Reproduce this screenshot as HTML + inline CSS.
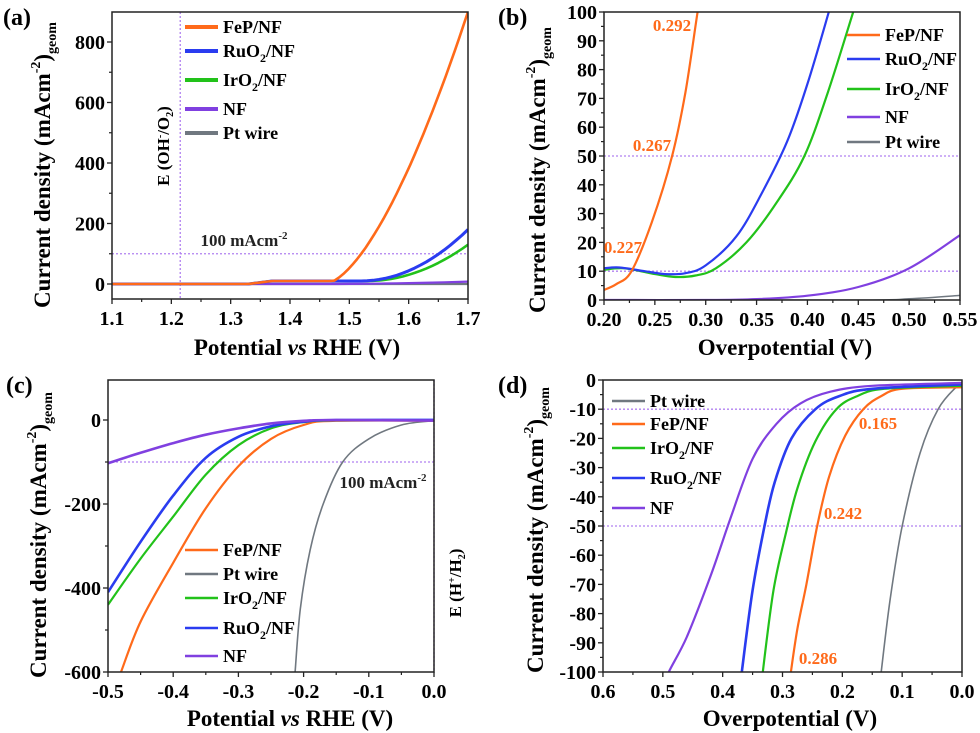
<!DOCTYPE html>
<html><head><meta charset="utf-8"><style>
html,body{margin:0;padding:0;background:#fff;}
svg{display:block;font-family:"Liberation Serif",serif;font-weight:bold;}
</style></head><body>
<svg id="s" width="980" height="733" viewBox="0 0 980 733" xmlns="http://www.w3.org/2000/svg"></svg>
<script>
var S=document.getElementById('s'),out='';
var C={fe:'#ff6a1a',ru:'#2a3cf0',ir:'#22c21a',nf:'#8040e0',pt:'#707880',dot:'#b080f0'};
function cr(pts){var d='M'+pts[0][0].toFixed(1)+','+pts[0][1].toFixed(1);
for(var i=0;i<pts.length-1;i++){var p0=pts[i-1]||pts[i],p1=pts[i],p2=pts[i+1],p3=pts[i+2]||p2;
var c1=[p1[0]+(p2[0]-p0[0])/6,p1[1]+(p2[1]-p0[1])/6],c2=[p2[0]-(p3[0]-p1[0])/6,p2[1]-(p3[1]-p1[1])/6];
d+='C'+c1[0].toFixed(1)+','+c1[1].toFixed(1)+' '+c2[0].toFixed(1)+','+c2[1].toFixed(1)+' '+p2[0].toFixed(1)+','+p2[1].toFixed(1);}return d;}
function panel(o){
var fx=function(v){return o.px0+(v-o.vx0)/(o.vx1-o.vx0)*(o.px1-o.px0);};
var fy=function(v){return o.py0+(v-o.vy0)/(o.vy1-o.vy0)*(o.py1-o.py0);};
var L=Math.min(o.px0,o.px1),R=Math.max(o.px0,o.px1),T=o.top,B=o.bot;
out+='<defs><clipPath id="c'+o.id+'"><rect x="'+L+'" y="'+T+'" width="'+(R-L)+'" height="'+(B-T)+'"/></clipPath></defs>';
(o.hl||[]).forEach(function(v){out+='<line x1="'+L+'" x2="'+R+'" y1="'+fy(v)+'" y2="'+fy(v)+'" stroke="'+C.dot+'" stroke-width="1.3" stroke-dasharray="2,2"/>';});
(o.vl||[]).forEach(function(v){out+='<line y1="'+T+'" y2="'+B+'" x1="'+fx(v)+'" x2="'+fx(v)+'" stroke="'+C.dot+'" stroke-width="1.3" stroke-dasharray="2,2"/>';});
o.series.forEach(function(s){var p=s.f?s.f():s.p;var pts=p.map(function(q){return [fx(q[0]),fy(q[1])];});
out+='<path d="'+(s.lin?('M'+pts.map(function(q){return q[0].toFixed(1)+','+q[1].toFixed(1)}).join('L')):cr(pts))+'" fill="none" stroke="'+C[s.c]+'" stroke-width="'+(s.w||2.2)+'" stroke-linejoin="round" clip-path="url(#c'+o.id+')"/>';});
out+='<rect x="'+L+'" y="'+T+'" width="'+(R-L)+'" height="'+(B-T)+'" fill="none" stroke="#222" stroke-width="1.5"/>';
o.xt.forEach(function(t){var x=fx(t[0]);out+='<line x1="'+x+'" x2="'+x+'" y1="'+B+'" y2="'+(B+5)+'" stroke="#222" stroke-width="1.3"/>';
out+='<text x="'+x+'" y="'+(B+26)+'" font-size="20" text-anchor="middle">'+t[1]+'</text>';});
(o.xm||[]).forEach(function(v){var x=fx(v);out+='<line x1="'+x+'" x2="'+x+'" y1="'+B+'" y2="'+(B+3)+'" stroke="#222" stroke-width="1.2"/>';});
o.yt.forEach(function(t){var y=fy(t[0]);out+='<line x1="'+L+'" x2="'+(L-5)+'" y1="'+y+'" y2="'+y+'" stroke="#222" stroke-width="1.3"/>';
out+='<text x="'+(L-7)+'" y="'+(y+7)+'" font-size="20" text-anchor="end">'+t[1]+'</text>';});
(o.ym||[]).forEach(function(v){var y=fy(v);out+='<line x1="'+L+'" x2="'+(L-3)+'" y1="'+y+'" y2="'+y+'" stroke="#222" stroke-width="1.2"/>';});
out+='<text x="'+o.xtx+'" y="'+o.xty+'" font-size="23" text-anchor="middle">'+o.xtitle+'</text>';
out+='<text transform="translate('+o.ytx+','+o.yty+') rotate(-90)" font-size="23" text-anchor="middle">Current density (mAcm<tspan font-size="14" dy="-10">-2</tspan><tspan dy="10">)</tspan><tspan font-size="14" dy="6">geom</tspan></text>';
out+='<text x="'+o.lx+'" y="'+o.ly+'" font-size="24">'+o.letter+'</text>';
o.leg.forEach(function(g,i){var y=g[2];out+='<line x1="'+o.legx+'" x2="'+(o.legx+33)+'" y1="'+y+'" y2="'+y+'" stroke="'+C[g[0]]+'" stroke-width="'+(o.legw||3)+'"/>';
out+='<text x="'+(o.legx+38)+'" y="'+(y+6)+'" font-size="18">'+g[1]+'</text>';});
(o.txt||[]).forEach(function(t){out+='<text x="'+t[0]+'" y="'+t[1]+'" font-size="'+(t[4]||17)+'" fill="'+(t[3]||'#222')+'" text-anchor="middle">'+t[2]+'</text>';});
}
var RU='RuO<tspan font-size="12" dy="5">2</tspan><tspan dy="-5">/NF</tspan>',IR='IrO<tspan font-size="12" dy="5">2</tspan><tspan dy="-5">/NF</tspan>';
function rng(a,b,n,f){var r=[];for(var i=0;i<=n;i++){var v=a+(b-a)*i/n;r.push([v,f(v)]);}return r;}
function bl(v){return v<1.33?0:(v<1.37?10*(v-1.33)/0.04:10);}
// (a)
panel({id:'a',px0:112,px1:468,vx0:1.1,vx1:1.7,py0:284,py1:42,vy0:0,vy1:800,top:12,bot:299,
hl:[100],vl:[1.215],
series:[
{c:'pt',p:[[1.1,0],[1.7,0]],lin:1},
{c:'nf',f:function(){return rng(1.1,1.7,30,function(v){return v<1.45?0:8*Math.pow((v-1.45)/0.25,2);});},lin:1},
{c:'ir',f:function(){return rng(1.1,1.7,60,function(v){return bl(v)+(v>1.53?4152*Math.pow(v-1.53,2):0);});},lin:1,w:2.6},
{c:'ru',f:function(){return rng(1.1,1.7,60,function(v){return bl(v)+(v>1.52?5247*Math.pow(v-1.52,2):0);});},lin:1,w:3},
{c:'fe',f:function(){return rng(1.1,1.7,80,function(v){return Math.max(bl(v),v<1.46?0:8640*Math.pow(v-1.46,1.585));});},lin:1,w:2.6}],
xt:[[1.1,'1.1'],[1.2,'1.2'],[1.3,'1.3'],[1.4,'1.4'],[1.5,'1.5'],[1.6,'1.6'],[1.7,'1.7']],xm:[1.15,1.25,1.35,1.45,1.55,1.65],
yt:[[0,'0'],[200,'200'],[400,'400'],[600,'600'],[800,'800']],ym:[100,300,500,700],
xtitle:'Potential <tspan font-style="italic">vs</tspan> RHE (V)',xtx:297,xty:355,ytx:50,yty:165,letter:'(a)',lx:3,ly:25,
legx:185,leg:[['fe','FeP/NF',27],['ru',RU,51],['ir',IR,80],['nf','NF',109],['pt','Pt wire',133]],legw:4,
txt:[[244,246,'100 mAcm<tspan font-size="11" dy="-7">-2</tspan>','#222',17]]});
out+='<text transform="translate(169,146) rotate(-90)" font-size="17" text-anchor="middle">E (OH<tspan font-size="10" dy="-6">-</tspan><tspan dy="6">/O</tspan><tspan font-size="10" dy="4">2</tspan><tspan dy="-4">)</tspan></text>';
// (b)
panel({id:'b',px0:604,px1:960,vx0:0.2,vx1:0.55,py0:300,py1:12,vy0:0,vy1:100,top:12,bot:300,hl:[50,10],
series:[
{c:'pt',p:[[0.2,0],[0.45,0],[0.5,0.4],[0.55,1.6]],w:1.5},
{c:'nf',p:[[0.2,0],[0.3,0],[0.35,0.3],[0.4,1.5],[0.45,4.5],[0.5,11],[0.55,22.5]]},
{c:'ir',p:[[0.2,10.5],[0.22,11],[0.25,9],[0.27,8],[0.29,8.5],[0.31,11],[0.34,20],[0.37,34],[0.397,50],[0.42,72],[0.445,100],[0.45,106]]},
{c:'ru',p:[[0.2,11],[0.215,11.3],[0.24,10],[0.26,9],[0.28,9.3],[0.3,12],[0.33,22],[0.355,37],[0.38,55],[0.4,75],[0.421,100],[0.425,105]]},
{c:'fe',p:[[0.2,3.5],[0.212,5.5],[0.227,10],[0.247,27],[0.267,50],[0.28,72],[0.292,100],[0.295,106]]}],
xt:[[0.2,'0.20'],[0.25,'0.25'],[0.3,'0.30'],[0.35,'0.35'],[0.4,'0.40'],[0.45,'0.45'],[0.5,'0.50'],[0.55,'0.55']],xm:[0.225,0.275,0.325,0.375,0.425,0.475,0.525],
yt:[[0,'0'],[10,'10'],[20,'20'],[30,'30'],[40,'40'],[50,'50'],[60,'60'],[70,'70'],[80,'80'],[90,'90'],[100,'100']],ym:[5,15,25,35,45,55,65,75,85,95],
xtitle:'Overpotential (V)',xtx:785,xty:355,ytx:545,yty:170,letter:'(b)',lx:498,ly:25,
legx:847,leg:[['fe','FeP/NF',35],['ru',RU,59],['ir',IR,89],['nf','NF',117],['pt','Pt wire',142]],legw:2.5,
txt:[[672,31,'0.292',C.fe],[652,151,'0.267',C.fe],[623,253,'0.227',C.fe]]});
// (c)
panel({id:'c',px0:108,px1:434,vx0:-0.5,vx1:0,py0:420,py1:672,vy0:0,vy1:-600,top:380,bot:672,hl:[-100],vl:[0],
series:[
{c:'pt',p:[[-0.213,-600],[-0.205,-450],[-0.19,-310],[-0.17,-200],[-0.14,-100],[-0.1,-45],[-0.05,-12],[0,-2],[0.05,0]],w:1.6},
{c:'fe',p:[[-0.48,-600],[-0.45,-480],[-0.4,-340],[-0.35,-210],[-0.3,-110],[-0.25,-45],[-0.2,-12],[-0.15,-2],[0.05,-2]]},
{c:'ir',p:[[-0.5,-440],[-0.45,-330],[-0.4,-230],[-0.35,-130],[-0.3,-60],[-0.25,-20],[-0.2,-5],[-0.15,-1],[0.05,0]]},
{c:'ru',p:[[-0.5,-410],[-0.45,-290],[-0.4,-180],[-0.35,-90],[-0.3,-40],[-0.25,-15],[-0.2,-4],[-0.15,0],[0.05,0]],w:2.6},
{c:'nf',p:[[-0.5,-103],[-0.45,-78],[-0.4,-55],[-0.35,-35],[-0.3,-20],[-0.25,-8],[-0.2,-2],[-0.15,0],[0.05,-2]],w:2.6}],
xt:[[-0.5,'-0.5'],[-0.4,'-0.4'],[-0.3,'-0.3'],[-0.2,'-0.2'],[-0.1,'-0.1'],[0,'0.0']],xm:[-0.45,-0.35,-0.25,-0.15,-0.05],
yt:[[0,'0'],[-200,'-200'],[-400,'-400'],[-600,'-600']],ym:[-100,-300,-500],
xtitle:'Potential <tspan font-style="italic">vs</tspan> RHE (V)',xtx:290,xty:726,ytx:46,yty:535,letter:'(c)',lx:6,ly:393,
legx:185,leg:[['fe','FeP/NF',550],['pt','Pt wire',574],['ir',IR,598],['ru',RU,628],['nf','NF',656]],legw:2.5,
txt:[[383,488,'100 mAcm<tspan font-size="11" dy="-7">-2</tspan>','#222',17]]});
out+='<text transform="translate(461,583) rotate(-90)" font-size="17" text-anchor="middle">E (H<tspan font-size="10" dy="-6">+</tspan><tspan dy="6">/H</tspan><tspan font-size="10" dy="4">2</tspan><tspan dy="-4">)</tspan></text>';
// (d)
panel({id:'d',px0:962,px1:603,vx0:0,vx1:0.6,py0:380,py1:672,vy0:0,vy1:-100,top:380,bot:672,hl:[-10,-50],
series:[
{c:'pt',p:[[0.0,-1.5],[0.01,-2.5],[0.04,-10],[0.07,-25],[0.1,-50],[0.12,-75],[0.135,-100],[0.137,-104]],w:1.6},
{c:'fe',p:[[0,-2.5],[0.1,-3],[0.135,-5.5],[0.165,-10],[0.195,-19],[0.222,-33],[0.242,-50],[0.26,-70],[0.275,-85],[0.286,-100],[0.288,-104]]},
{c:'ir',p:[[0,-2],[0.13,-3],[0.175,-5.5],[0.21,-10],[0.245,-21],[0.275,-37],[0.295,-53],[0.315,-72],[0.333,-100],[0.335,-104]]},
{c:'ru',p:[[0,-1.5],[0.15,-3],[0.205,-5.5],[0.245,-10],[0.285,-20],[0.313,-35],[0.33,-50],[0.35,-72],[0.368,-100],[0.37,-104]],w:2.6},
{c:'nf',p:[[0,-1],[0.15,-2],[0.22,-4],[0.27,-8],[0.31,-15],[0.35,-27],[0.388,-48],[0.42,-67],[0.46,-88],[0.49,-100],[0.495,-104]]}],
xt:[[0.6,'0.6'],[0.5,'0.5'],[0.4,'0.4'],[0.3,'0.3'],[0.2,'0.2'],[0.1,'0.1'],[0,'0.0']],xm:[0.55,0.45,0.35,0.25,0.15,0.05],
yt:[[0,'0'],[-10,'-10'],[-20,'-20'],[-30,'-30'],[-40,'-40'],[-50,'-50'],[-60,'-60'],[-70,'-70'],[-80,'-80'],[-90,'-90'],[-100,'-100']],ym:[-5,-15,-25,-35,-45,-55,-65,-75,-85,-95],
xtitle:'Overpotential (V)',xtx:790,xty:726,ytx:543,yty:530,letter:'(d)',lx:498,ly:393,
legx:612,leg:[['pt','Pt wire',401],['fe','FeP/NF',424],['ir',IR,448],['ru',RU,478],['nf','NF',508]],legw:2.5,
txt:[[878,429,'0.165',C.fe],[843,519,'0.242',C.fe],[818,664,'0.286',C.fe]]});
S.innerHTML=out;
</script>
</body></html>
